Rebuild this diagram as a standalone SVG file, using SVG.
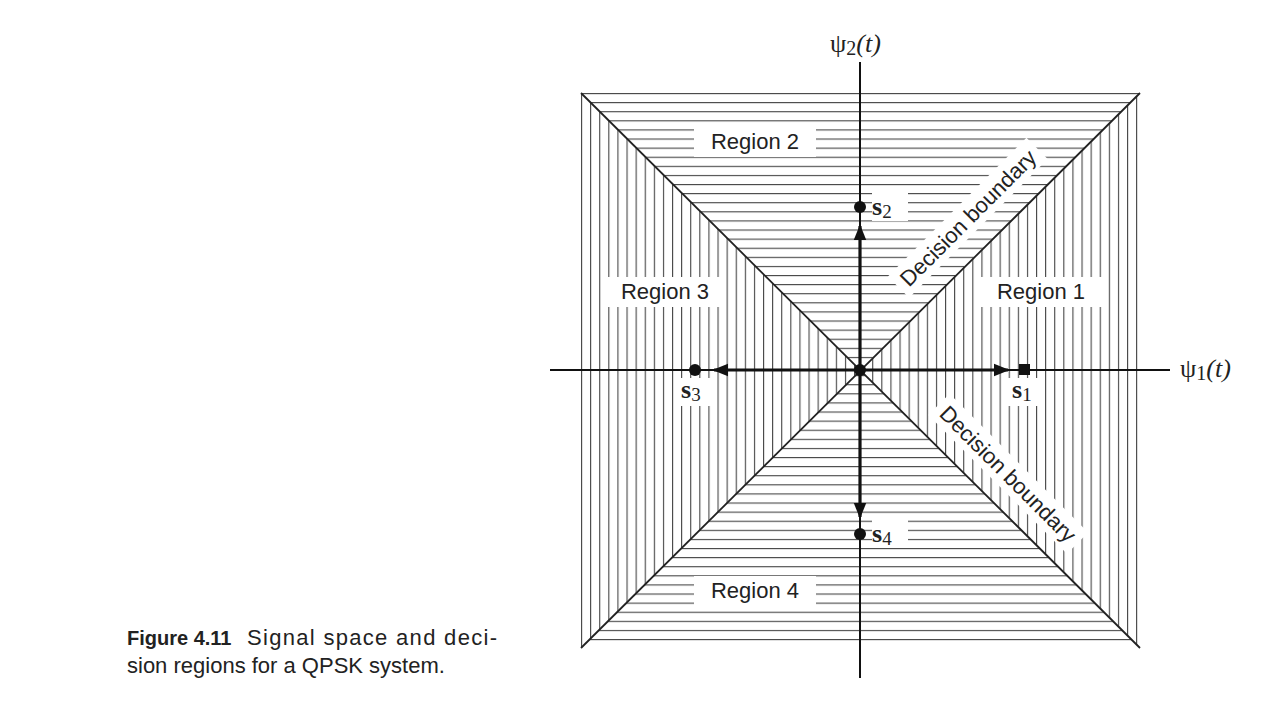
<svg xmlns="http://www.w3.org/2000/svg" width="1280" height="720" viewBox="0 0 1280 720">
<style>
.lbl{font-family:"Liberation Sans",Arial,sans-serif;font-size:22px;fill:#222}
.sym{font-family:"Liberation Serif","Times New Roman",serif;font-size:26px;fill:#222}
.ax{stroke:#111;stroke-width:2;fill:none}
.ar{stroke:#111;stroke-width:3.2;fill:none}
.dg{stroke:#222;stroke-width:1.8}
.bg{fill:#fff}
</style>
<defs>
<pattern id="hz" patternUnits="userSpaceOnUse" x="0" y="93" width="20" height="9.1"><line x1="0" y1="0.5" x2="20" y2="0.5" stroke="#444" stroke-width="1.2"/></pattern>
<pattern id="vt" patternUnits="userSpaceOnUse" x="581" y="0" width="9.1" height="20"><line x1="0.5" y1="0" x2="0.5" y2="20" stroke="#444" stroke-width="1.2"/></pattern>
<marker id="ar" viewBox="0 0 10 10" refX="9" refY="5" markerWidth="5" markerHeight="5" orient="auto"><path d="M0,1L10,5L0,9z" fill="#111"/></marker>
</defs>
<rect width="1280" height="720" fill="#fff"/>
<g id="hatch">
<polygon points="581,93 1140,93 860,370" fill="url(#hz)"/>
<polygon points="581,648 1140,648 860,370" fill="url(#hz)"/>
<polygon points="581,93 581,648 860,370" fill="url(#vt)"/>
<polygon points="1140,93 1140,648 860,370" fill="url(#vt)"/>
<line class="dg" x1="581" y1="93" x2="1140" y2="648"/>
<line class="dg" x1="1140" y1="93" x2="581" y2="648"/>
</g>
<g id="labels">
<rect class="bg" x="694" y="127" width="122" height="30"/><text class="lbl" x="755" y="149" text-anchor="middle">Region 2</text>
<rect class="bg" x="604" y="277" width="122" height="30"/><text class="lbl" x="665" y="299" text-anchor="middle">Region 3</text>
<rect class="bg" x="980" y="277" width="122" height="30"/><text class="lbl" x="1041" y="299" text-anchor="middle">Region 1</text>
<rect class="bg" x="694" y="576" width="122" height="30"/><text class="lbl" x="755" y="598" text-anchor="middle">Region 4</text>
<g transform="translate(972,222) rotate(-45)"><rect class="bg" x="-98" y="-21" width="196" height="30"/><text class="lbl" x="0" y="2" text-anchor="middle">Decision boundary</text></g>
<g transform="translate(1004,478) rotate(45)"><rect class="bg" x="-98" y="-21" width="196" height="30"/><text class="lbl" x="0" y="2" text-anchor="middle">Decision boundary</text></g>
<rect class="bg" x="872" y="193" width="36" height="28"/>
<rect class="bg" x="872" y="520" width="36" height="28"/>
<rect class="bg" x="678" y="378" width="36" height="28"/>
<rect class="bg" x="1008" y="378" width="36" height="28"/>
</g>
<g id="connectors">
<line class="ax" x1="860" y1="62" x2="860" y2="678"/>
<line class="ax" x1="550" y1="370" x2="1170" y2="370"/>
<line class="ar" x1="860" y1="370" x2="860" y2="226" marker-end="url(#ar)"/>
<line class="ar" x1="860" y1="370" x2="860" y2="517" marker-end="url(#ar)"/>
<line class="ar" x1="860" y1="370" x2="714" y2="370" marker-end="url(#ar)"/>
<line class="ar" x1="860" y1="370" x2="1008" y2="370" marker-end="url(#ar)"/>
<circle cx="860" cy="370" r="6" fill="#111"/>
</g>
<g id="points">
<circle cx="860" cy="207" r="6" fill="#111"/><text class="sym" x="872" y="215" font-weight="bold">s<tspan font-size="19" font-weight="normal" dy="3">2</tspan></text>
<circle cx="860" cy="534" r="6" fill="#111"/><text class="sym" x="872" y="542" font-weight="bold">s<tspan font-size="19" font-weight="normal" dy="3">4</tspan></text>
<circle cx="695" cy="370" r="6" fill="#111"/><text class="sym" x="681" y="398" font-weight="bold">s<tspan font-size="19" font-weight="normal" dy="3">3</tspan></text>
<rect x="1019" y="364" width="11" height="11" fill="#111"/><text class="sym" x="1012" y="398" font-weight="bold">s<tspan font-size="19" font-weight="normal" dy="3">1</tspan></text>
<text class="sym" x="830" y="52">ψ<tspan font-size="20" dy="3">2</tspan><tspan dy="-3" font-style="italic">(t)</tspan></text>
<text class="sym" x="1180" y="377">ψ<tspan font-size="20" dy="3">1</tspan><tspan dy="-3" font-style="italic">(t)</tspan></text>
</g>
<g id="caption" font-family="Liberation Sans,Arial,sans-serif" font-size="22" fill="#222">
<text x="127" y="645" font-weight="bold" font-size="20">Figure 4.11</text>
<text x="247" y="645" textLength="250" lengthAdjust="spacing">Signal space and deci-</text>
<text x="127" y="673">sion regions for a QPSK system.</text>
</g>
</svg>
